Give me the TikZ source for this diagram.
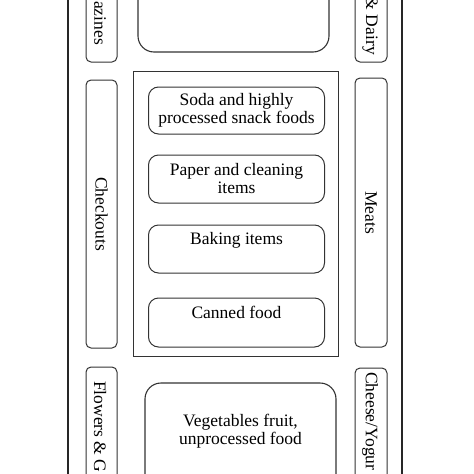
\documentclass[tikz,border=0pt]{standalone}
\usepackage{fontspec}
\setmainfont{Liberation Serif}
\usetikzlibrary{positioning}

\tikzset{
	wall/.style={line width=1.5pt, black!85},
	rack/.style={draw=black!80, line width=1pt, rounded corners=5pt, inner sep=0pt},
	shelf/.style={draw=black!80, line width=1pt, rounded corners=10pt, inner sep=0pt},
	bigshelf/.style={draw=black!80, line width=1.1pt, rounded corners=16pt, inner sep=0pt},
	aisle/.style={draw=black!80, line width=1pt, inner sep=0pt},
	tag/.style={font=\fontsize{17.5}{18}\selectfont, align=center, inner sep=0pt},
}

\begin{document}
\begin{tikzpicture}[x=1pt, y=-1pt]
	\useasboundingbox (0,0) rectangle (474,474);
	\clip (0,0) rectangle (474,474);
	%% outer walls
	\draw[wall] (68,-10) -- (68,484);
	\draw[wall] (402,-10) -- (402,484);
	%% left side
	\node[rack, minimum width=31pt, minimum height=112pt] (mag) at (101.5,6) {};
	\node[rack, minimum width=31pt, minimum height=268pt] (checkout) at (101.5,214) {};
	\node[rack, minimum width=31pt, minimum height=173pt] (flowers) at (101.5,453.5) {};
	\node[tag, rotate=-90, anchor=east] (magtxt) at (100,45) {azines};
	\node[tag, rotate=-90] (checktxt) at (checkout) {Checkouts};
	\node[tag, rotate=-90, anchor=west] (flowtxt) at (100,381) {Flowers \& G};
	%% right side
	\node[rack, minimum width=32pt, minimum height=112pt] (dairy) at (371,6) {};
	\node[rack, minimum width=32pt, minimum height=269pt] (meats) at (371,212.5) {};
	\node[rack, minimum width=32pt, minimum height=172pt] (cheese) at (371,454) {};
	\node[tag, rotate=-90, anchor=east] (dairytxt) at (370,55) {\& Dairy};
	\node[tag, rotate=-90] (meattxt) at (meats) {Meats};
	\node[tag, rotate=-90, anchor=west] (cheesetxt) at (370,372) {Cheese/Yogur};
	%% top and bottom
	\node[bigshelf, minimum width=191pt, minimum height=112pt] (top) at (233.5,-4) {};
	\node[bigshelf, minimum width=191pt, minimum height=156pt] (produce) at (240.5,461) {};
	\node[tag] (producetxt) at (240.5,431) {Vegetables fruit,\\unprocessed food};
	%% centre aisles
	\node[aisle, minimum width=205pt, minimum height=285pt] (centre) at (235.5,213.5) {};
	\node[shelf, tag, minimum width=176pt, minimum height=47pt] (soda) at (236.5,110.5) {Soda and highly\\processed snack foods};
	\node[shelf, tag, minimum width=176pt, minimum height=48pt] (paper) at (236.5,179) {Paper and cleaning\\items};
	\node[shelf, minimum width=176pt, minimum height=48pt] (baking) at (236.5,249) {};
	\node[shelf, minimum width=176pt, minimum height=49pt] (canned) at (236.5,322.5) {};
	\node[tag, below=8pt of baking.north] (bakingtxt) {Baking items};
	\node[tag, below=8pt of canned.north] (cannedtxt) {Canned food};
\end{tikzpicture}
\end{document}
